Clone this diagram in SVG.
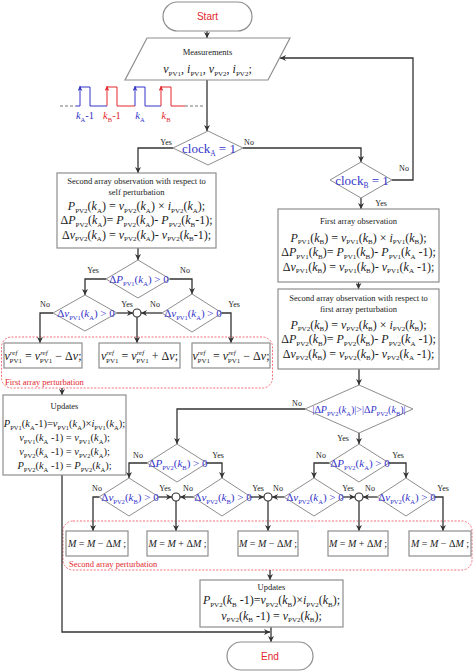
<svg xmlns="http://www.w3.org/2000/svg" width="474" height="671" viewBox="0 0 474 671">
<defs>
<style>
.box{fill:#fff;stroke:#8e8e8e;stroke-width:1.2}
.dia{fill:#fff;stroke:#8e8e8e;stroke-width:1}
.ln{fill:none;stroke:#333;stroke-width:1.3}
.dash{fill:none;stroke:#f2606c;stroke-width:0.9;stroke-dasharray:2 1.5}
.jn{fill:#fff;stroke:#333;stroke-width:1.2}
.t{font-family:"Liberation Serif",serif;font-size:8.5px;fill:#1a1a1a}
.lab{font-family:"Liberation Serif",serif;font-size:8px;fill:#1a1a1a}
.eq{font-family:"Liberation Serif",serif;font-size:12px;font-style:italic;fill:#1a1a1a}
.eq12{font-family:"Liberation Serif",serif;font-size:12px;font-style:italic;fill:#1a1a1a}
.eq11{font-family:"Liberation Serif",serif;font-size:10.5px;font-style:italic;fill:#1a1a1a}
.eq10{font-family:"Liberation Serif",serif;font-size:10px;font-style:italic;fill:#1a1a1a}
.dq{font-family:"Liberation Serif",serif;font-size:11px;font-style:italic;fill:#3434c8}
.dq10{font-family:"Liberation Serif",serif;font-size:10px;font-style:italic;fill:#3434c8}
.ck{font-family:"Liberation Serif",serif;font-size:13px;fill:#3434c8}
.s{font-style:normal;font-size:7px}
.eq11 .s,.dq .s,.dq10 .s{font-size:6.5px}
.si{font-size:7px}
.u{font-style:normal}
.red{fill:#e3262b}
.blue{fill:#3434c8}
.sans{font-family:"Liberation Sans",Arial,sans-serif;font-size:10px}
</style>
<marker id="a" viewBox="0 0 10 10" refX="10" refY="5" markerWidth="6" markerHeight="6" orient="auto" markerUnits="userSpaceOnUse"><path d="M0,0 L10,5 L0,10 L3,5 z" fill="#333"/></marker>
<marker id="ab" viewBox="0 0 10 10" refX="10" refY="5" markerWidth="5" markerHeight="5" orient="auto" markerUnits="userSpaceOnUse"><path d="M0,0 L10,5 L0,10 L3,5 z" fill="#3434c8"/></marker>
<marker id="ar" viewBox="0 0 10 10" refX="10" refY="5" markerWidth="5" markerHeight="5" orient="auto" markerUnits="userSpaceOnUse"><path d="M0,0 L10,5 L0,10 L3,5 z" fill="#e3262b"/></marker>
</defs>
<rect width="474" height="671" fill="#fff"/>

<g id="pert1">
<rect class="dash" x="1.5" y="337" width="271" height="51" rx="10"/>
<text class="t red" x="5" y="384.5">First array perturbation</text>
</g>
<g id="pert2">
<rect class="dash" x="63" y="521" width="409" height="49" rx="10"/>
<text class="t red" x="69" y="566.5">Second array perturbation</text>
</g>

<g id="connectors">
<path class="ln" d="M207,31 V38" marker-end="url(#a)"/>
<path class="ln" d="M207,80 V131" marker-end="url(#a)"/>
<path class="ln" d="M173,148 H138 V173" marker-end="url(#a)"/>
<path class="ln" d="M243,148 H361 V162" marker-end="url(#a)"/>
<path class="ln" d="M392,180 H413 V58 H280" marker-end="url(#a)"/>
<path class="ln" d="M361,198 V209" marker-end="url(#a)"/>
<path class="ln" d="M358.5,282 V289" marker-end="url(#a)"/>
<path class="ln" d="M359,369 V385" marker-end="url(#a)"/>
<path class="ln" d="M138,248 V260" marker-end="url(#a)"/>
<path class="ln" d="M106,279 H85 V295" marker-end="url(#a)"/>
<path class="ln" d="M170,279 H192 V294" marker-end="url(#a)"/>
<path class="ln" d="M53,313 H40 V343" marker-end="url(#a)"/>
<path class="ln" d="M117,313 H133" marker-end="url(#a)"/>
<path class="ln" d="M162,313 H141" marker-end="url(#a)"/>
<path class="ln" d="M222,313 H231 V343" marker-end="url(#a)"/>
<path class="ln" d="M137,317 V343" marker-end="url(#a)"/>
<path class="ln" d="M62,388 V395" marker-end="url(#a)"/>
<path class="ln" d="M62,475 V632 H270" marker-end="url(#a)"/>
<path class="ln" d="M305,409 H177 V444" marker-end="url(#a)"/>
<path class="ln" d="M359,433 V444" marker-end="url(#a)"/>
<path class="ln" d="M147,463 H129 V478" marker-end="url(#a)"/>
<path class="ln" d="M207,463 H222 V478" marker-end="url(#a)"/>
<path class="ln" d="M99,497 H93 V531" marker-end="url(#a)"/>
<path class="ln" d="M159,497 H172" marker-end="url(#a)"/>
<path class="ln" d="M193,497 H180" marker-end="url(#a)"/>
<path class="ln" d="M251,497 H264" marker-end="url(#a)"/>
<path class="ln" d="M329,463 H314 V478" marker-end="url(#a)"/>
<path class="ln" d="M389,463 H406 V478" marker-end="url(#a)"/>
<path class="ln" d="M284,497 H272" marker-end="url(#a)"/>
<path class="ln" d="M344,497 H355" marker-end="url(#a)"/>
<path class="ln" d="M377,497 H363" marker-end="url(#a)"/>
<path class="ln" d="M435,497 H443 V531" marker-end="url(#a)"/>
<path class="ln" d="M176,501 V531" marker-end="url(#a)"/>
<path class="ln" d="M268,501 V531" marker-end="url(#a)"/>
<path class="ln" d="M359,501 V531" marker-end="url(#a)"/>
<path class="ln" d="M270,570 V580" marker-end="url(#a)"/>
<path class="ln" d="M271,627 V642" marker-end="url(#a)"/>
<g class="lab">
<text x="166" y="145" text-anchor="middle">Yes</text>
<text x="249" y="145" text-anchor="middle">No</text>
<text x="404" y="171" text-anchor="middle">No</text>
<text x="381" y="206" text-anchor="middle">Yes</text>
<text x="93" y="273" text-anchor="middle">Yes</text>
<text x="185" y="273" text-anchor="middle">No</text>
<text x="45" y="307" text-anchor="middle">No</text>
<text x="127" y="307" text-anchor="middle">Yes</text>
<text x="155" y="307" text-anchor="middle">No</text>
<text x="234" y="307" text-anchor="middle">Yes</text>
<text x="297" y="406" text-anchor="middle">No</text>
<text x="343" y="441" text-anchor="middle">Yes</text>
<text x="138" y="458" text-anchor="middle">No</text>
<text x="218" y="458" text-anchor="middle">Yes</text>
<text x="97" y="491" text-anchor="middle">No</text>
<text x="165" y="491" text-anchor="middle">Yes</text>
<text x="188" y="491" text-anchor="middle">No</text>
<text x="258" y="491" text-anchor="middle">Yes</text>
<text x="321" y="458" text-anchor="middle">No</text>
<text x="398" y="458" text-anchor="middle">Yes</text>
<text x="278" y="491" text-anchor="middle">No</text>
<text x="348" y="491" text-anchor="middle">Yes</text>
<text x="370" y="491" text-anchor="middle">No</text>
<text x="443" y="491" text-anchor="middle">Yes</text>
</g>
</g>

<g id="n-start">
<rect x="163" y="2" width="89" height="29" rx="14.5" fill="#fff" stroke="#8e8e8e" stroke-width="1.2"/>
<text class="sans red" x="207.5" y="20" text-anchor="middle">Start</text>
</g>

<g id="n-meas">
<polygon class="box" points="147,38 290,38 268,80 125,80"/>
<text class="t" x="207.5" y="55" text-anchor="middle" font-size="9.5">Measurements</text>
<text class="eq" x="207.5" y="73" text-anchor="middle" font-size="13">v<tspan class="s" dy="3">PV1</tspan><tspan class="u" dy="-3">,  </tspan>i<tspan class="s" dy="3">PV1</tspan><tspan class="u" dy="-3">,  </tspan>v<tspan class="s" dy="3">PV2</tspan><tspan class="u" dy="-3">,  </tspan>i<tspan class="s" dy="3">PV2</tspan><tspan class="u" dy="-3">;</tspan></text>
</g>

<g id="n-pulses">
<path d="M60,106 H76 M185,106 H203" fill="none" stroke="#777" stroke-width="1" stroke-dasharray="3 2"/>
<path d="M76,106 H80 M80,87 H90 V106 H107" fill="none" stroke="#3434c8" stroke-width="1"/>
<path d="M80,106 V86" fill="none" stroke="#3434c8" stroke-width="1" marker-end="url(#ab)"/>
<path d="M107,87 H117 V106 H135" fill="none" stroke="#e3262b" stroke-width="1"/>
<path d="M107,106 V86" fill="none" stroke="#e3262b" stroke-width="1" marker-end="url(#ar)"/>
<path d="M135,87 H145 V106 H161" fill="none" stroke="#3434c8" stroke-width="1"/>
<path d="M135,106 V86" fill="none" stroke="#3434c8" stroke-width="1" marker-end="url(#ab)"/>
<path d="M161,87 H171 V106 H185" fill="none" stroke="#e3262b" stroke-width="1"/>
<path d="M161,106 V86" fill="none" stroke="#e3262b" stroke-width="1" marker-end="url(#ar)"/>
<text class="eq11 blue" x="85" y="119" text-anchor="middle">k<tspan class="s" dy="3">A</tspan><tspan class="u" dy="-3">-1</tspan></text>
<text class="eq11 red" x="112" y="119" text-anchor="middle">k<tspan class="s" dy="3">B</tspan><tspan class="u" dy="-3">-1</tspan></text>
<text class="eq11 blue" x="140" y="119" text-anchor="middle">k<tspan class="s" dy="3">A</tspan></text>
<text class="eq11 red" x="166" y="119" text-anchor="middle">k<tspan class="s" dy="3">B</tspan></text>
</g>

<g id="n-clockA">
<polygon class="dia" points="173,148 208,131 243,148 208,165"/>
<text class="ck" x="209" y="152.5" text-anchor="middle">clock<tspan font-size="7.5" dy="3">A</tspan><tspan dy="-3"> = 1</tspan></text>
</g>

<g id="n-clockB">
<polygon class="dia" points="330,180 361,162 392,180 361,198"/>
<text class="ck" x="362" y="184.5" text-anchor="middle">clock<tspan font-size="7.5" dy="3">B</tspan><tspan dy="-3"> = 1</tspan></text>
</g>

<g id="n-obs2A">
<rect class="box" x="57" y="173" width="159" height="75"/>
<text class="t" x="136.5" y="184" text-anchor="middle">Second array observation with respect to</text>
<text class="t" x="136.5" y="195" text-anchor="middle">self perturbation</text>
<text class="eq" x="136.5" y="210" text-anchor="middle">P<tspan class="s" dy="2.5">PV2</tspan><tspan class="u" dy="-2.5">(</tspan>k<tspan class="s" dy="2.5">A</tspan><tspan class="u" dy="-2.5">) = </tspan>v<tspan class="s" dy="2.5">PV2</tspan><tspan class="u" dy="-2.5">(</tspan>k<tspan class="s" dy="2.5">A</tspan><tspan class="u" dy="-2.5">) × </tspan>i<tspan class="s" dy="2.5">PV2</tspan><tspan class="u" dy="-2.5">(</tspan>k<tspan class="s" dy="2.5">A</tspan><tspan class="u" dy="-2.5">);</tspan></text>
<text class="eq" x="136.5" y="224" text-anchor="middle"><tspan class="u">Δ</tspan>P<tspan class="s" dy="2.5">PV2</tspan><tspan class="u" dy="-2.5">(</tspan>k<tspan class="s" dy="2.5">A</tspan><tspan class="u" dy="-2.5">)= </tspan>P<tspan class="s" dy="2.5">PV2</tspan><tspan class="u" dy="-2.5">(</tspan>k<tspan class="s" dy="2.5">A</tspan><tspan class="u" dy="-2.5">)- </tspan>P<tspan class="s" dy="2.5">PV2</tspan><tspan class="u" dy="-2.5">(</tspan>k<tspan class="s" dy="2.5">B</tspan><tspan class="u" dy="-2.5">-1);</tspan></text>
<text class="eq" x="136.5" y="238.5" text-anchor="middle"><tspan class="u">Δ</tspan>v<tspan class="s" dy="2.5">PV2</tspan><tspan class="u" dy="-2.5">(</tspan>k<tspan class="s" dy="2.5">A</tspan><tspan class="u" dy="-2.5">) = </tspan>v<tspan class="s" dy="2.5">PV2</tspan><tspan class="u" dy="-2.5">(</tspan>k<tspan class="s" dy="2.5">A</tspan><tspan class="u" dy="-2.5">)- </tspan>v<tspan class="s" dy="2.5">PV2</tspan><tspan class="u" dy="-2.5">(</tspan>k<tspan class="s" dy="2.5">B</tspan><tspan class="u" dy="-2.5">-1);</tspan></text>
</g>

<g id="n-obs1B">
<rect class="box" x="278" y="209" width="161" height="73"/>
<text class="t" x="358.5" y="224" text-anchor="middle">First array observation</text>
<text class="eq" x="358.5" y="241.5" text-anchor="middle">P<tspan class="s" dy="2.5">PV1</tspan><tspan class="u" dy="-2.5">(</tspan>k<tspan class="s" dy="2.5">B</tspan><tspan class="u" dy="-2.5">) = </tspan>v<tspan class="s" dy="2.5">PV1</tspan><tspan class="u" dy="-2.5">(</tspan>k<tspan class="s" dy="2.5">B</tspan><tspan class="u" dy="-2.5">) × </tspan>i<tspan class="s" dy="2.5">PV1</tspan><tspan class="u" dy="-2.5">(</tspan>k<tspan class="s" dy="2.5">B</tspan><tspan class="u" dy="-2.5">);</tspan></text>
<text class="eq" x="358.5" y="256" text-anchor="middle"><tspan class="u">Δ</tspan>P<tspan class="s" dy="2.5">PV1</tspan><tspan class="u" dy="-2.5">(</tspan>k<tspan class="s" dy="2.5">B</tspan><tspan class="u" dy="-2.5">)= </tspan>P<tspan class="s" dy="2.5">PV1</tspan><tspan class="u" dy="-2.5">(</tspan>k<tspan class="s" dy="2.5">B</tspan><tspan class="u" dy="-2.5">)- </tspan>P<tspan class="s" dy="2.5">PV1</tspan><tspan class="u" dy="-2.5">(</tspan>k<tspan class="s" dy="2.5">A</tspan><tspan class="u" dy="-2.5"> -1);</tspan></text>
<text class="eq" x="358.5" y="270.5" text-anchor="middle"><tspan class="u">Δ</tspan>v<tspan class="s" dy="2.5">PV1</tspan><tspan class="u" dy="-2.5">(</tspan>k<tspan class="s" dy="2.5">B</tspan><tspan class="u" dy="-2.5">) = </tspan>v<tspan class="s" dy="2.5">PV1</tspan><tspan class="u" dy="-2.5">(</tspan>k<tspan class="s" dy="2.5">B</tspan><tspan class="u" dy="-2.5">)- </tspan>v<tspan class="s" dy="2.5">PV1</tspan><tspan class="u" dy="-2.5">(</tspan>k<tspan class="s" dy="2.5">A</tspan><tspan class="u" dy="-2.5"> -1);</tspan></text>
</g>

<g id="n-obs2B">
<rect class="box" x="278" y="289" width="161" height="80"/>
<text class="t" x="358.5" y="301" text-anchor="middle">Second array observation with respect to</text>
<text class="t" x="358.5" y="312" text-anchor="middle">first array perturbation</text>
<text class="eq" x="358.5" y="328.5" text-anchor="middle">P<tspan class="s" dy="2.5">PV2</tspan><tspan class="u" dy="-2.5">(</tspan>k<tspan class="s" dy="2.5">B</tspan><tspan class="u" dy="-2.5">) = </tspan>v<tspan class="s" dy="2.5">PV2</tspan><tspan class="u" dy="-2.5">(</tspan>k<tspan class="s" dy="2.5">B</tspan><tspan class="u" dy="-2.5">) × </tspan>i<tspan class="s" dy="2.5">PV2</tspan><tspan class="u" dy="-2.5">(</tspan>k<tspan class="s" dy="2.5">B</tspan><tspan class="u" dy="-2.5">);</tspan></text>
<text class="eq" x="358.5" y="343" text-anchor="middle"><tspan class="u">Δ</tspan>P<tspan class="s" dy="2.5">PV2</tspan><tspan class="u" dy="-2.5">(</tspan>k<tspan class="s" dy="2.5">B</tspan><tspan class="u" dy="-2.5">)= </tspan>P<tspan class="s" dy="2.5">PV2</tspan><tspan class="u" dy="-2.5">(</tspan>k<tspan class="s" dy="2.5">B</tspan><tspan class="u" dy="-2.5">)- </tspan>P<tspan class="s" dy="2.5">PV2</tspan><tspan class="u" dy="-2.5">(</tspan>k<tspan class="s" dy="2.5">A</tspan><tspan class="u" dy="-2.5"> -1);</tspan></text>
<text class="eq" x="358.5" y="357.5" text-anchor="middle"><tspan class="u">Δ</tspan>v<tspan class="s" dy="2.5">PV2</tspan><tspan class="u" dy="-2.5">(</tspan>k<tspan class="s" dy="2.5">B</tspan><tspan class="u" dy="-2.5">) = </tspan>v<tspan class="s" dy="2.5">PV2</tspan><tspan class="u" dy="-2.5">(</tspan>k<tspan class="s" dy="2.5">B</tspan><tspan class="u" dy="-2.5">)- </tspan>v<tspan class="s" dy="2.5">PV2</tspan><tspan class="u" dy="-2.5">(</tspan>k<tspan class="s" dy="2.5">A</tspan><tspan class="u" dy="-2.5"> -1);</tspan></text>
</g>

<g id="n-dP1">
<polygon class="dia" points="106,279 138,260 170,279 138,298"/>
<text class="dq" x="139" y="282.5" text-anchor="middle"><tspan class="u">Δ</tspan>P<tspan class="s" dy="3">PV1</tspan><tspan class="u" dy="-3">(</tspan>k<tspan class="s" dy="3">A</tspan><tspan class="u" dy="-3">) &gt; 0</tspan></text>
</g>
<g id="n-dv1L">
<polygon class="dia" points="53,313 85,295 117,313 85,331"/>
<text class="dq" x="86" y="316.5" text-anchor="middle"><tspan class="u">Δ</tspan>v<tspan class="s" dy="3">PV1</tspan><tspan class="u" dy="-3">(</tspan>k<tspan class="s" dy="3">A</tspan><tspan class="u" dy="-3">) &gt; 0</tspan></text>
</g>
<g id="n-dv1R">
<polygon class="dia" points="162,313 192,294 222,313 192,332"/>
<text class="dq" x="193" y="316.5" text-anchor="middle"><tspan class="u">Δ</tspan>v<tspan class="s" dy="3">PV1</tspan><tspan class="u" dy="-3">(</tspan>k<tspan class="s" dy="3">A</tspan><tspan class="u" dy="-3">) &gt; 0</tspan></text>
</g>
<circle id="j1" class="jn" cx="137" cy="313" r="4"/>

<g id="n-r1a">
<rect class="box" x="4" y="343" width="78" height="25"/>
<text class="eq12" x="43" y="360" text-anchor="middle">v<tspan class="si" dy="-5">ref</tspan><tspan class="s" dx="-7.8" dy="8">PV1</tspan><tspan class="u" dy="-3"> = </tspan>v<tspan class="si" dy="-5">ref</tspan><tspan class="s" dx="-7.8" dy="8">PV1</tspan><tspan class="u" dy="-3"> − Δ</tspan>v<tspan class="u">;</tspan></text>
</g>
<g id="n-r1b">
<rect class="box" x="99" y="343" width="81" height="25"/>
<text class="eq12" x="139.5" y="360" text-anchor="middle">v<tspan class="si" dy="-5">ref</tspan><tspan class="s" dx="-7.8" dy="8">PV1</tspan><tspan class="u" dy="-3"> = </tspan>v<tspan class="si" dy="-5">ref</tspan><tspan class="s" dx="-7.8" dy="8">PV1</tspan><tspan class="u" dy="-3"> + Δ</tspan>v<tspan class="u">;</tspan></text>
</g>
<g id="n-r1c">
<rect class="box" x="192" y="343" width="78" height="25"/>
<text class="eq12" x="231" y="360" text-anchor="middle">v<tspan class="si" dy="-5">ref</tspan><tspan class="s" dx="-7.8" dy="8">PV1</tspan><tspan class="u" dy="-3"> = </tspan>v<tspan class="si" dy="-5">ref</tspan><tspan class="s" dx="-7.8" dy="8">PV1</tspan><tspan class="u" dy="-3"> − Δ</tspan>v<tspan class="u">;</tspan></text>
</g>

<g id="n-upd1">
<rect class="box" x="3" y="395" width="123" height="80"/>
<text class="t" x="64.5" y="409" text-anchor="middle" font-size="9">Updates</text>
<text class="eq11" x="64.5" y="427" text-anchor="middle">P<tspan class="s" dy="2.5">PV1</tspan><tspan class="u" dy="-2.5">(</tspan>k<tspan class="s" dy="2.5">A</tspan><tspan class="u" dy="-2.5">-1)=</tspan>v<tspan class="s" dy="2.5">PV1</tspan><tspan class="u" dy="-2.5">(</tspan>k<tspan class="s" dy="2.5">A</tspan><tspan class="u" dy="-2.5">)×</tspan>i<tspan class="s" dy="2.5">PV1</tspan><tspan class="u" dy="-2.5">(</tspan>k<tspan class="s" dy="2.5">A</tspan><tspan class="u" dy="-2.5">);</tspan></text>
<text class="eq11" x="64.5" y="441" text-anchor="middle">v<tspan class="s" dy="2.5">PV1</tspan><tspan class="u" dy="-2.5">(</tspan>k<tspan class="s" dy="2.5">A</tspan><tspan class="u" dy="-2.5"> -1) = </tspan>v<tspan class="s" dy="2.5">PV1</tspan><tspan class="u" dy="-2.5">(</tspan>k<tspan class="s" dy="2.5">A</tspan><tspan class="u" dy="-2.5">);</tspan></text>
<text class="eq11" x="64.5" y="455" text-anchor="middle">v<tspan class="s" dy="2.5">PV2</tspan><tspan class="u" dy="-2.5">(</tspan>k<tspan class="s" dy="2.5">A</tspan><tspan class="u" dy="-2.5"> -1) = </tspan>v<tspan class="s" dy="2.5">PV2</tspan><tspan class="u" dy="-2.5">(</tspan>k<tspan class="s" dy="2.5">A</tspan><tspan class="u" dy="-2.5">);</tspan></text>
<text class="eq11" x="64.5" y="469" text-anchor="middle">P<tspan class="s" dy="2.5">PV2</tspan><tspan class="u" dy="-2.5">(</tspan>k<tspan class="s" dy="2.5">A</tspan><tspan class="u" dy="-2.5"> -1) = </tspan>P<tspan class="s" dy="2.5">PV2</tspan><tspan class="u" dy="-2.5">(</tspan>k<tspan class="s" dy="2.5">A</tspan><tspan class="u" dy="-2.5">);</tspan></text>
</g>

<g id="n-big">
<polygon class="dia" points="305,409 359,385 413,409 359,433"/>
<text class="dq10" x="359" y="412.5" text-anchor="middle"><tspan class="u">|Δ</tspan>P<tspan class="s" dy="3">PV2</tspan><tspan class="u" dy="-3">(</tspan>k<tspan class="s" dy="3">A</tspan><tspan class="u" dy="-3">)|&gt;|Δ</tspan>P<tspan class="s" dy="3">PV2</tspan><tspan class="u" dy="-3">(</tspan>k<tspan class="s" dy="3">B</tspan><tspan class="u" dy="-3">)|</tspan></text>
</g>

<g id="n-dP2B">
<polygon class="dia" points="147,463 177,444 207,463 177,482"/>
<text class="dq" x="178" y="466.5" text-anchor="middle"><tspan class="u">Δ</tspan>P<tspan class="s" dy="3">PV2</tspan><tspan class="u" dy="-3">(</tspan>k<tspan class="s" dy="3">B</tspan><tspan class="u" dy="-3">) &gt; 0</tspan></text>
</g>
<g id="n-dv2BL">
<polygon class="dia" points="99,497 129,478 159,497 129,516"/>
<text class="dq" x="130" y="500.5" text-anchor="middle"><tspan class="u">Δ</tspan>v<tspan class="s" dy="3">PV2</tspan><tspan class="u" dy="-3">(</tspan>k<tspan class="s" dy="3">B</tspan><tspan class="u" dy="-3">) &gt; 0</tspan></text>
</g>
<g id="n-dv2BR">
<polygon class="dia" points="193,497 222,478 251,497 222,516"/>
<text class="dq" x="223" y="500.5" text-anchor="middle"><tspan class="u">Δ</tspan>v<tspan class="s" dy="3">PV2</tspan><tspan class="u" dy="-3">(</tspan>k<tspan class="s" dy="3">B</tspan><tspan class="u" dy="-3">) &gt; 0</tspan></text>
</g>
<g id="n-dP2A">
<polygon class="dia" points="329,463 359,444 389,463 359,482"/>
<text class="dq" x="360" y="466.5" text-anchor="middle"><tspan class="u">Δ</tspan>P<tspan class="s" dy="3">PV2</tspan><tspan class="u" dy="-3">(</tspan>k<tspan class="s" dy="3">A</tspan><tspan class="u" dy="-3">) &gt; 0</tspan></text>
</g>
<g id="n-dv2AL">
<polygon class="dia" points="284,497 314,478 344,497 314,516"/>
<text class="dq" x="315" y="500.5" text-anchor="middle"><tspan class="u">Δ</tspan>v<tspan class="s" dy="3">PV2</tspan><tspan class="u" dy="-3">(</tspan>k<tspan class="s" dy="3">A</tspan><tspan class="u" dy="-3">) &gt; 0</tspan></text>
</g>
<g id="n-dv2AR">
<polygon class="dia" points="377,497 406,478 435,497 406,516"/>
<text class="dq" x="407" y="500.5" text-anchor="middle"><tspan class="u">Δ</tspan>v<tspan class="s" dy="3">PV2</tspan><tspan class="u" dy="-3">(</tspan>k<tspan class="s" dy="3">A</tspan><tspan class="u" dy="-3">) &gt; 0</tspan></text>
</g>
<circle id="j2" class="jn" cx="176" cy="497" r="4"/>
<circle id="j3" class="jn" cx="268" cy="497" r="4"/>
<circle id="j4" class="jn" cx="359" cy="497" r="4"/>

<g id="n-r2a"><rect class="box" x="66" y="531" width="62" height="25"/><text class="eq10" x="97" y="547" text-anchor="middle">M<tspan class="u"> = </tspan>M<tspan class="u"> − Δ</tspan>M<tspan class="u"> ;</tspan></text></g>
<g id="n-r2b"><rect class="box" x="147" y="531" width="61" height="25"/><text class="eq10" x="177.5" y="547" text-anchor="middle">M<tspan class="u"> = </tspan>M<tspan class="u"> + Δ</tspan>M<tspan class="u"> ;</tspan></text></g>
<g id="n-r2c"><rect class="box" x="238" y="531" width="60" height="25"/><text class="eq10" x="268" y="547" text-anchor="middle">M<tspan class="u"> = </tspan>M<tspan class="u"> − Δ</tspan>M<tspan class="u"> ;</tspan></text></g>
<g id="n-r2d"><rect class="box" x="328" y="531" width="60" height="25"/><text class="eq10" x="358" y="547" text-anchor="middle">M<tspan class="u"> = </tspan>M<tspan class="u"> + Δ</tspan>M<tspan class="u"> ;</tspan></text></g>
<g id="n-r2e"><rect class="box" x="409" y="531" width="62" height="25"/><text class="eq10" x="440" y="547" text-anchor="middle">M<tspan class="u"> = </tspan>M<tspan class="u"> − Δ</tspan>M<tspan class="u"> ;</tspan></text></g>

<g id="n-upd2">
<rect class="box" x="200" y="580" width="143" height="47"/>
<text class="t" x="271.5" y="590" text-anchor="middle" font-size="8">Updates</text>
<text class="eq12" x="271.5" y="604" text-anchor="middle">P<tspan class="s" dy="2.5">PV2</tspan><tspan class="u" dy="-2.5">(</tspan>k<tspan class="s" dy="2.5">B</tspan><tspan class="u" dy="-2.5"> -1)=</tspan>v<tspan class="s" dy="2.5">PV2</tspan><tspan class="u" dy="-2.5">(</tspan>k<tspan class="s" dy="2.5">B</tspan><tspan class="u" dy="-2.5">)×</tspan>i<tspan class="s" dy="2.5">PV2</tspan><tspan class="u" dy="-2.5">(</tspan>k<tspan class="s" dy="2.5">B</tspan><tspan class="u" dy="-2.5">);</tspan></text>
<text class="eq12" x="271.5" y="619.5" text-anchor="middle">v<tspan class="s" dy="2.5">PV2</tspan><tspan class="u" dy="-2.5">(</tspan>k<tspan class="s" dy="2.5">B</tspan><tspan class="u" dy="-2.5"> -1) = </tspan>v<tspan class="s" dy="2.5">PV2</tspan><tspan class="u" dy="-2.5">(</tspan>k<tspan class="s" dy="2.5">B</tspan><tspan class="u" dy="-2.5">);</tspan></text>
</g>

<g id="n-end">
<rect x="227" y="642" width="86" height="28" rx="14" fill="#fff" stroke="#8e8e8e" stroke-width="1.2"/>
<text class="sans red" x="270" y="660" text-anchor="middle">End</text>
</g>
</svg>
